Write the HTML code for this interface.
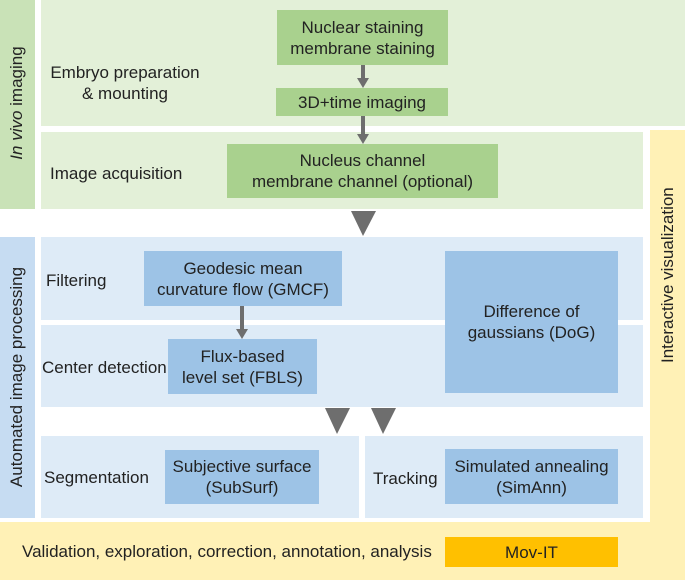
<!DOCTYPE html>
<html><head><style>
body{margin:0;width:685px;height:580px;position:relative;background:#fff;font-family:"Liberation Sans",sans-serif;color:#222;overflow:hidden}
.a{position:absolute;box-sizing:border-box}
.b{display:flex;align-items:center;justify-content:center;text-align:center;font-size:17px;line-height:21px}
.l{font-size:17px;line-height:21px;white-space:nowrap}
.g{background:#e3f0d8}.G{background:#a9d18e}.u{background:#deebf7}.U{background:#9dc3e6}
.v{position:absolute;transform:rotate(-90deg);white-space:nowrap;font-size:17px}
</style></head><body>
<div class="a" style="left:0;top:522px;width:685px;height:58px;background:#fff1b6"></div>
<div class="a" style="left:650px;top:130px;width:35px;height:400px;background:#fff1b6"></div>
<div class="a" style="left:0;top:0;width:35px;height:209px;background:#c9e2b7"></div>
<div class="a" style="left:0;top:237px;width:35px;height:281px;background:#c6dcf2"></div>
<div class="a g" style="left:41px;top:0;width:644px;height:126px"></div>
<div class="a g" style="left:41px;top:132px;width:602px;height:77px"></div>
<div class="a u" style="left:41px;top:237px;width:602px;height:83px"></div>
<div class="a u" style="left:41px;top:325px;width:602px;height:82px"></div>
<div class="a u" style="left:41px;top:436px;width:318px;height:82px"></div>
<div class="a u" style="left:365px;top:436px;width:278px;height:82px"></div>

<div class="v" style="left:-43px;top:93px;width:120px;text-align:center"><i>In vivo</i> imaging</div>
<div class="v" style="left:-107px;top:367px;width:248px;text-align:center">Automated image processing</div>
<div class="v" style="left:582px;top:267px;width:172px;text-align:center">Interactive visualization</div>

<div class="a l" style="left:44px;top:62px;width:162px;text-align:center">Embryo preparation<br>&amp; mounting</div>
<div class="a l" style="left:50px;top:163px">Image acquisition</div>
<div class="a l" style="left:46px;top:270px">Filtering</div>
<div class="a l" style="left:42px;top:357px">Center detection</div>
<div class="a l" style="left:44px;top:467px">Segmentation</div>
<div class="a l" style="left:373px;top:468px">Tracking</div>
<div class="a l" style="left:22px;top:541px">Validation, exploration, correction, annotation, analysis</div>

<div class="a b G" style="left:277px;top:10px;width:171px;height:55px">Nuclear staining<br>membrane staining</div>
<div class="a b G" style="left:276px;top:88px;width:172px;height:28px">3D+time imaging</div>
<div class="a b G" style="left:227px;top:144px;width:271px;height:54px">Nucleus channel<br>membrane channel (optional)</div>
<div class="a b U" style="left:144px;top:251px;width:198px;height:55px">Geodesic mean<br>curvature flow (GMCF)</div>
<div class="a b U" style="left:445px;top:251px;width:173px;height:142px">Difference of<br>gaussians (DoG)</div>
<div class="a b U" style="left:168px;top:339px;width:149px;height:55px">Flux-based<br>level set (FBLS)</div>
<div class="a b U" style="left:165px;top:450px;width:154px;height:54px">Subjective surface<br>(SubSurf)</div>
<div class="a b U" style="left:445px;top:449px;width:173px;height:55px">Simulated annealing<br>(SimAnn)</div>
<div class="a b" style="left:445px;top:537px;width:173px;height:30px;background:#ffc000">Mov-IT</div>

<svg class="a" style="left:0;top:0" width="685" height="580">
<g fill="#6e6e6e" stroke="#6e6e6e">
<line x1="363" y1="65" x2="363" y2="80" stroke-width="4"/><polygon points="357,78 369,78 363,88" stroke="none"/>
<line x1="363" y1="116" x2="363" y2="136" stroke-width="4"/><polygon points="357,134 369,134 363,144" stroke="none"/>
<line x1="242" y1="306" x2="242" y2="331" stroke-width="4"/><polygon points="236,329 248,329 242,339" stroke="none"/>
<polygon points="351,211 376,211 363,236" stroke="none"/>
<polygon points="325,408 350,408 337,434" stroke="none"/>
<polygon points="371,408 396,408 383,434" stroke="none"/>
</g></svg>
</body></html>
